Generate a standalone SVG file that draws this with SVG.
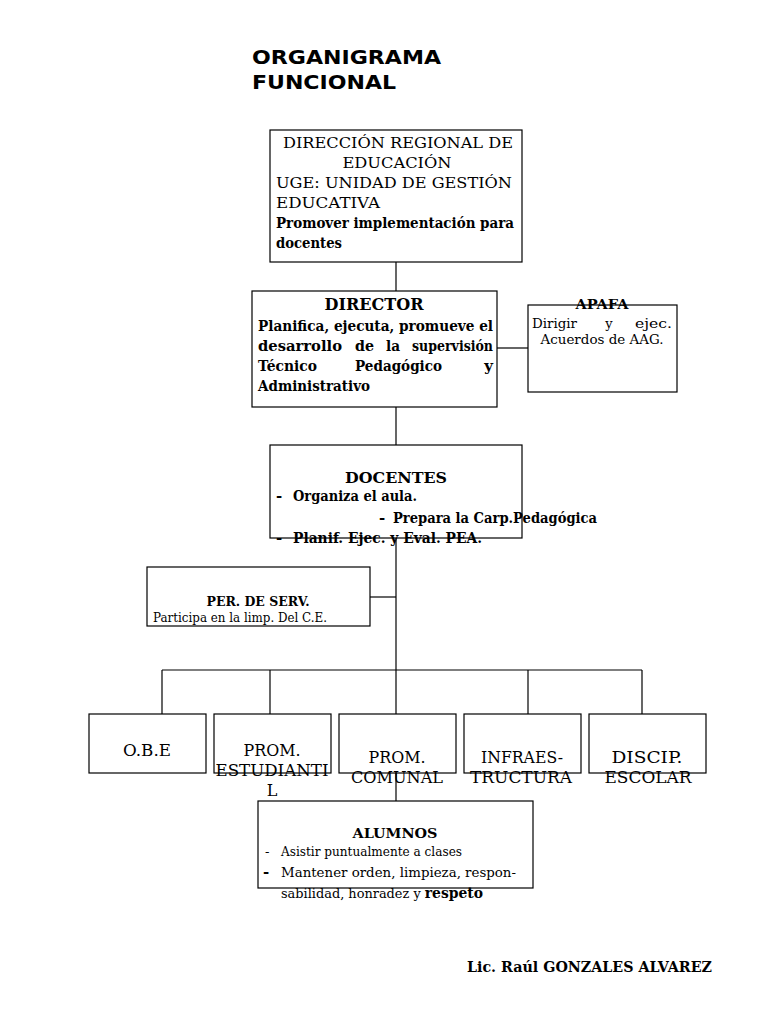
<svg xmlns="http://www.w3.org/2000/svg" width="768" height="1024" viewBox="0 0 768 1024">
<style>
.box{fill:#fff;stroke:#000;stroke-width:1.2}
.ln{stroke:#000;stroke-width:1.2;fill:none}
.s{font-family:"DejaVu Serif","Liberation Serif",serif;fill:#000}
.b{font-weight:bold}
.t{font-family:"DejaVu Sans","Liberation Sans",sans-serif;font-weight:bold;font-size:20px;fill:#000}
</style>
<rect width="768" height="1024" fill="#fff"/>
<g id="title">
<text class="t" x="252" y="64" textLength="189" lengthAdjust="spacingAndGlyphs">ORGANIGRAMA</text>
<text class="t" x="252" y="89" textLength="144" lengthAdjust="spacingAndGlyphs">FUNCIONAL</text>
</g>
<g id="connectors">
<line class="ln" x1="396" y1="262" x2="396" y2="291"/>
<line class="ln" x1="497" y1="348" x2="528" y2="348"/>
<line class="ln" x1="396" y1="407" x2="396" y2="445"/>
<line class="ln" x1="396" y1="538" x2="396" y2="670"/>
<line class="ln" x1="370" y1="597" x2="396" y2="597"/>
<line class="ln" x1="162" y1="670" x2="642" y2="670"/>
<line class="ln" x1="162" y1="670" x2="162" y2="714"/>
<line class="ln" x1="270" y1="670" x2="270" y2="714"/>
<line class="ln" x1="396" y1="670" x2="396" y2="714"/>
<line class="ln" x1="528" y1="670" x2="528" y2="714"/>
<line class="ln" x1="642" y1="670" x2="642" y2="714"/>
<line class="ln" x1="396" y1="773" x2="396" y2="801"/>
</g>
<g id="dre">
<rect class="box" x="270" y="130" width="252" height="132"/>
<text class="s" font-size="15" x="398" y="148" text-anchor="middle" textLength="230" lengthAdjust="spacingAndGlyphs">DIRECCIÓN REGIONAL DE</text>
<text class="s" font-size="15" x="397" y="168" text-anchor="middle" textLength="109" lengthAdjust="spacingAndGlyphs">EDUCACIÓN</text>
<text class="s" font-size="15" x="276" y="188" textLength="236" lengthAdjust="spacingAndGlyphs">UGE: UNIDAD DE GESTIÓN</text>
<text class="s" font-size="15" x="276" y="208" textLength="104" lengthAdjust="spacingAndGlyphs">EDUCATIVA</text>
<text class="s b" font-size="15" x="276" y="228" textLength="238" lengthAdjust="spacingAndGlyphs">Promover implementación para</text>
<text class="s b" font-size="15" x="276" y="248" textLength="66" lengthAdjust="spacingAndGlyphs">docentes</text>
</g>
<g id="director">
<rect class="box" x="252" y="291" width="245" height="116"/>
<text class="s b" font-size="16" x="374" y="310" text-anchor="middle" textLength="99" lengthAdjust="spacingAndGlyphs">DIRECTOR</text>
<text class="s b" font-size="15" x="258" y="331" textLength="235" lengthAdjust="spacingAndGlyphs">Planifica, ejecuta, promueve el</text>
<text class="s b" font-size="15" x="258" y="351" textLength="84" lengthAdjust="spacingAndGlyphs">desarrollo</text>
<text class="s b" font-size="15" x="355" y="351" textLength="19" lengthAdjust="spacingAndGlyphs">de</text>
<text class="s b" font-size="15" x="386" y="351" textLength="14" lengthAdjust="spacingAndGlyphs">la</text>
<text class="s b" font-size="15" x="412" y="351" textLength="81" lengthAdjust="spacingAndGlyphs">supervisión</text>
<text class="s b" font-size="15" x="258" y="371" textLength="59" lengthAdjust="spacingAndGlyphs">Técnico</text>
<text class="s b" font-size="15" x="355" y="371" textLength="87" lengthAdjust="spacingAndGlyphs">Pedagógico</text>
<text class="s b" font-size="15" x="493" y="371" text-anchor="end">y</text>
<text class="s b" font-size="15" x="258" y="391" textLength="112" lengthAdjust="spacingAndGlyphs">Administrativo</text>
</g>
<g id="apafa">
<rect class="box" x="528" y="305" width="149" height="87"/>
<text class="s b" font-size="12" x="602" y="309" text-anchor="middle" textLength="53" lengthAdjust="spacingAndGlyphs">APAFA</text>
<text class="s" font-size="13" x="532" y="328" textLength="45" lengthAdjust="spacingAndGlyphs">Dirigir</text>
<text class="s" font-size="13" x="609" y="328" text-anchor="middle">y</text>
<text class="s" font-size="13" x="635" y="328" textLength="37" lengthAdjust="spacingAndGlyphs">ejec.</text>
<text class="s" font-size="13" x="602" y="344" text-anchor="middle" textLength="123" lengthAdjust="spacingAndGlyphs">Acuerdos de AAG.</text>
</g>
<g id="docentes">
<rect class="box" x="270" y="445" width="252" height="93"/>
<text class="s b" font-size="15" x="396" y="483" text-anchor="middle" textLength="102" lengthAdjust="spacingAndGlyphs">DOCENTES</text>
<text class="s b" font-size="15" x="276" y="501">-</text>
<text class="s b" font-size="14" x="293" y="501" textLength="124" lengthAdjust="spacingAndGlyphs">Organiza el aula.</text>
<text class="s b" font-size="15" x="379" y="523">-</text>
<text class="s b" font-size="14" x="393" y="523" textLength="204" lengthAdjust="spacingAndGlyphs">Prepara la Carp.Pedagógica</text>
<text class="s b" font-size="15" x="276" y="543">-</text>
<text class="s b" font-size="14" x="293" y="543" textLength="189" lengthAdjust="spacingAndGlyphs">Planif. Ejec. y Eval. PEA.</text>
</g>
<g id="perserv">
<rect class="box" x="147" y="567" width="223" height="59"/>
<text class="s b" font-size="12" x="258" y="606" text-anchor="middle" textLength="103" lengthAdjust="spacingAndGlyphs">PER. DE SERV.</text>
<text class="s" font-size="12" x="153" y="622" textLength="174" lengthAdjust="spacingAndGlyphs">Participa en la limp. Del C.E.</text>
</g>
<g id="obe">
<rect class="box" x="89" y="714" width="117" height="59"/>
<text class="s" font-size="16" x="147" y="756" text-anchor="middle" textLength="48" lengthAdjust="spacingAndGlyphs">O.B.E</text>
</g>
<g id="promest">
<rect class="box" x="214" y="714" width="117" height="59"/>
<text class="s" font-size="16" x="272" y="756" text-anchor="middle" textLength="57" lengthAdjust="spacingAndGlyphs">PROM.</text>
<text class="s" font-size="16" x="272" y="776" text-anchor="middle" textLength="113" lengthAdjust="spacingAndGlyphs">ESTUDIANTI</text>
<text class="s" font-size="16" x="272" y="796" text-anchor="middle">L</text>
</g>
<g id="promcom">
<rect class="box" x="339" y="714" width="117" height="59"/>
<text class="s" font-size="16" x="397" y="763" text-anchor="middle" textLength="57" lengthAdjust="spacingAndGlyphs">PROM.</text>
<text class="s" font-size="16" x="397" y="783" text-anchor="middle" textLength="92" lengthAdjust="spacingAndGlyphs">COMUNAL</text>
</g>
<g id="infra">
<rect class="box" x="464" y="714" width="117" height="59"/>
<text class="s" font-size="16" x="522" y="763" text-anchor="middle" textLength="82" lengthAdjust="spacingAndGlyphs">INFRAES-</text>
<text class="s" font-size="16" x="521" y="783" text-anchor="middle" textLength="102" lengthAdjust="spacingAndGlyphs">TRUCTURA</text>
</g>
<g id="discip">
<rect class="box" x="589" y="714" width="117" height="59"/>
<text class="s" font-size="16" x="647" y="763" text-anchor="middle" textLength="71" lengthAdjust="spacingAndGlyphs">DISCIP.</text>
<text class="s" font-size="16" x="648" y="783" text-anchor="middle" textLength="87" lengthAdjust="spacingAndGlyphs">ESCOLAR</text>
</g>
<g id="alumnos">
<rect class="box" x="258" y="801" width="275" height="87"/>
<text class="s b" font-size="12" x="395" y="838" text-anchor="middle" textLength="85" lengthAdjust="spacingAndGlyphs">ALUMNOS</text>
<text class="s" font-size="13" x="265" y="856">-</text>
<text class="s" font-size="13" x="281" y="856" textLength="181" lengthAdjust="spacingAndGlyphs">Asistir puntualmente a clases</text>
<text class="s b" font-size="15" x="263" y="877">-</text>
<text class="s" font-size="13" x="281" y="877" textLength="235" lengthAdjust="spacingAndGlyphs">Mantener orden, limpieza,  respon-</text>
<text class="s" font-size="13" x="281" y="898" textLength="202" lengthAdjust="spacingAndGlyphs">sabilidad, honradez y <tspan class="b" font-size="14">respeto</tspan></text>
</g>
<g id="footer">
<text class="s b" font-size="14" x="467" y="972" textLength="245" lengthAdjust="spacingAndGlyphs">Lic. Raúl GONZALES ALVAREZ</text>
</g>
</svg>
